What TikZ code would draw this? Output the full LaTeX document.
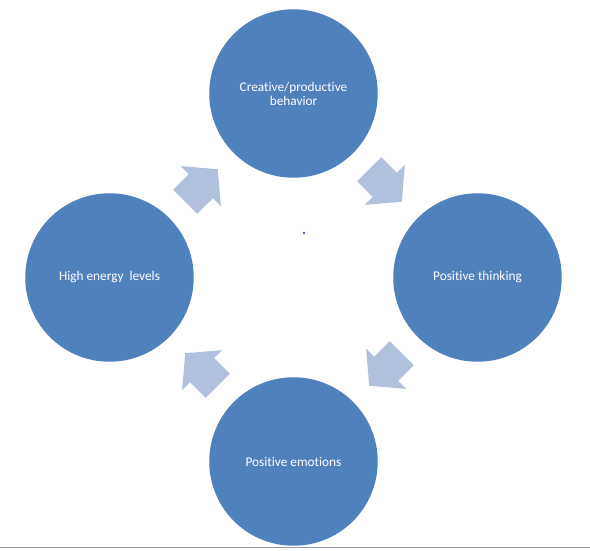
\documentclass[tikz,border=0pt]{standalone}
\usepackage{fontspec}
\setmainfont{Carlito}[Ligatures=NoCommon]
\usepackage{xcolor}
\usetikzlibrary{calc}

\definecolor{my_blue}{RGB}{79,129,189}
\definecolor{my_blue_light}{RGB}{176,192,221}
\definecolor{my_gray}{RGB}{145,154,170}
\definecolor{my_dot}{RGB}{20,40,230}

\tikzstyle{cycle_node} = [circle, fill=my_blue, text=white, minimum size=168.5pt, inner sep=0pt, align=center, font=\fontsize{13.3}{14}\selectfont]
\tikzstyle{cycle_arrow} = [fill=my_blue_light]

% block arrow half way between two nodes, turned by the given angle
\newcommand{\cyclearrow}[3]{%
	\fill[cycle_arrow, shift={($(#1)!0.5!(#2)$)}, rotate=#3]
		(-23,-17) -- (-1,-17) -- (-1,-28.5) -- (23,0) -- (-1,28.5) -- (-1,17) -- (-23,17) -- cycle;}

\begin{document}
\begin{tikzpicture}[x=1pt, y=1pt, node distance=184pt]

	\useasboundingbox (0,0) rectangle (590,550);

	\node [coordinate] (center) at (293.5,272.5) {};

	\node [cycle_node, above of=center] (creative) {Creative/productive\\behavior};
	\node [cycle_node, right of=center] (thinking) {Positive thinking};
	\node [cycle_node, below of=center] (emotions) {Positive emotions};
	\node [cycle_node, left of=center] (energy) {High energy\ \ levels};

	\cyclearrow{energy}{creative}{45}
	\cyclearrow{creative}{thinking}{-45}
	\cyclearrow{thinking}{emotions}{-135}
	\cyclearrow{emotions}{energy}{135}

	\fill [my_dot] ($(center)+(10.5,44.5)$) circle (1.2);

	\coordinate (line_l) at (0,2.7);
	\coordinate (line_r) at (590,2.7);
	\draw [my_gray, line width=1.3pt] (line_l) -- (line_r);

\end{tikzpicture}
\end{document}
